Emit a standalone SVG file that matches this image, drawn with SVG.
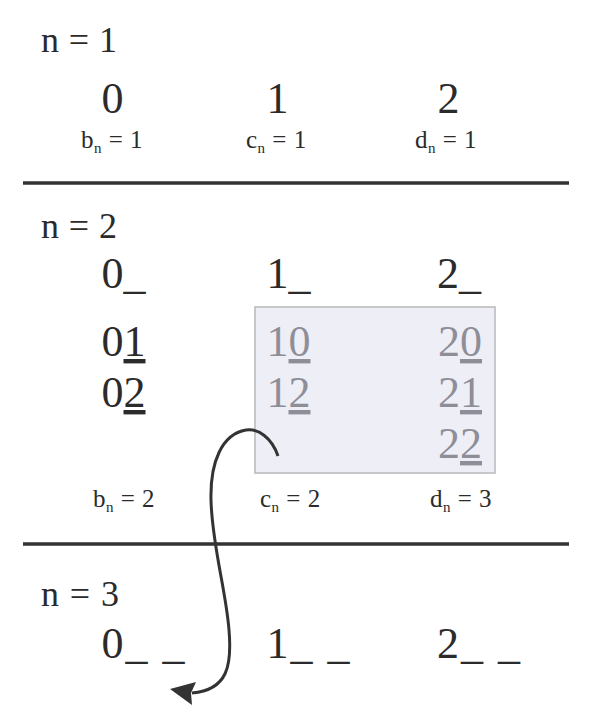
<svg xmlns="http://www.w3.org/2000/svg" width="600" height="715" viewBox="0 0 600 715">
<style>
.t{font-family:'Liberation Serif','DejaVu Serif',serif;fill:#2b2b2b}
.hd{font-size:36px}
.big{font-size:44px}
.grey{fill:#8e8e99}
.lbl{font-size:25px;letter-spacing:0.5px}
.sub{font-size:15px}
.u{text-decoration:underline}
.rule{stroke:#333;stroke-width:3.5}
</style>
<rect width="600" height="715" fill="#ffffff"/>
<g id="rules">
<line class="rule" x1="23" y1="183" x2="569" y2="183"/>
<line class="rule" x1="23" y1="544" x2="569" y2="544"/>
</g>
<g id="section-n1" class="t" font-family="Liberation Serif, serif">
<text class="hd" x="41" y="52" textLength="76" lengthAdjust="spacing">n=1</text>
<text class="big" x="101.5" y="113">0</text>
<text class="big" x="266.5" y="113">1</text>
<text class="big" x="437.5" y="113">2</text>
<text class="lbl" x="81" y="148">b<tspan class="sub" dy="5">n</tspan><tspan dy="-5"> = 1</tspan></text>
<text class="lbl" x="246" y="148">c<tspan class="sub" dy="5">n</tspan><tspan dy="-5"> = 1</tspan></text>
<text class="lbl" x="415" y="148">d<tspan class="sub" dy="5">n</tspan><tspan dy="-5"> = 1</tspan></text>
</g>
<g id="section-n2" class="t" font-family="Liberation Serif, serif">
<text class="hd" x="41" y="238" textLength="76" lengthAdjust="spacing">n=2</text>
<text class="big" x="101.5" y="288">0_</text>
<text class="big" x="266.5" y="288">1_</text>
<text class="big" x="437" y="288">2_</text>
<g id="highlight-box">
<rect x="255" y="307" width="240" height="166" fill="#eeeef7" stroke="#b8b8bc" stroke-width="1.5"/>
</g>
<text class="big" x="101.5" y="356">0<tspan class="u">1</tspan></text>
<text class="big" x="101.5" y="407">0<tspan class="u">2</tspan></text>
<text class="big grey" x="266.5" y="356">1<tspan class="u">0</tspan></text>
<text class="big grey" x="266.5" y="407">1<tspan class="u">2</tspan></text>
<text class="big grey" x="438" y="356">2<tspan class="u">0</tspan></text>
<text class="big grey" x="438" y="407">2<tspan class="u">1</tspan></text>
<text class="big grey" x="438" y="458">2<tspan class="u">2</tspan></text>
<text class="lbl" x="93" y="507">b<tspan class="sub" dy="5">n</tspan><tspan dy="-5"> = 2</tspan></text>
<text class="lbl" x="260" y="507">c<tspan class="sub" dy="5">n</tspan><tspan dy="-5"> = 2</tspan></text>
<text class="lbl" x="430" y="507">d<tspan class="sub" dy="5">n</tspan><tspan dy="-5"> = 3</tspan></text>
</g>
<g id="section-n3" class="t" font-family="Liberation Serif, serif">
<text class="hd" x="41" y="606" textLength="78" lengthAdjust="spacing">n=3</text>
<text class="big" x="101.5" y="658" xml:space="preserve" letter-spacing="2">0_ _</text>
<text class="big" x="266.5" y="658" xml:space="preserve" letter-spacing="2">1_ _</text>
<text class="big" x="437" y="658" xml:space="preserve" letter-spacing="2">2_ _</text>
</g>
<g id="connectors">
<path d="M 278 456 C 272 438, 258 428, 246 430 C 222 434, 210 462, 211 500 C 212 545, 226 590, 229 630 C 232 665, 228 690, 192 693" fill="none" stroke="#333" stroke-width="3"/>
<polygon points="170,689 196,682 191,693 192,705" fill="#333"/>
</g>
</svg>
